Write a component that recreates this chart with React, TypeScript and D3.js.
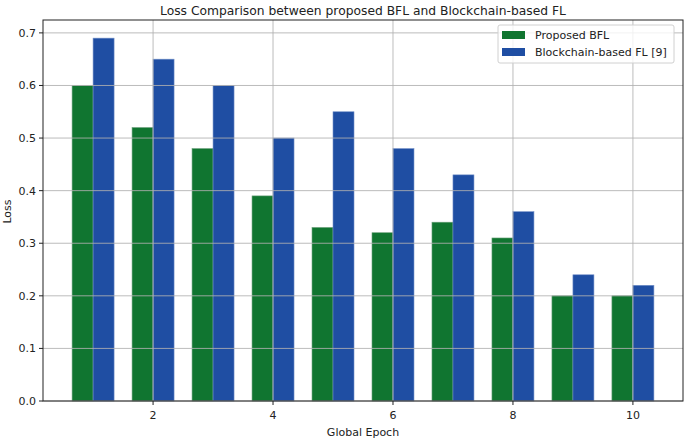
import React from 'react';
import * as d3 from 'd3';

// Values
const epochs = [1, 2, 3, 4, 5, 6, 7, 8, 9, 10];
const proposedBFL = [0.60, 0.52, 0.48, 0.39, 0.33, 0.32, 0.34, 0.31, 0.20, 0.20];
const blockchainFL = [0.69, 0.65, 0.60, 0.50, 0.55, 0.48, 0.43, 0.36, 0.24, 0.22];
const xTicks = [2, 4, 6, 8, 10];
const yTicks = [0, 0.1, 0.2, 0.3, 0.4, 0.5, 0.6, 0.7];

const W = 685;
const H = 441;
const M = { top: 20, right: 2, bottom: 40, left: 43 };
const BAR_W = 0.35;
const GREEN = '#107530';
const BLUE = '#1f4ea3';
const FONT = 'DejaVu Sans, sans-serif';

export default function App() {
  const innerW = W - M.left - M.right;
  const innerH = H - M.top - M.bottom;

  const x = d3.scaleLinear().domain([0.165, 10.835]).range([0, innerW]);
  const y = d3.scaleLinear().domain([0, 0.7245]).range([innerH, 0]);
  const bw = x(BAR_W) - x(0);

  return (
    <svg
      width={W}
      height={H}
      style={{ position: 'absolute', left: 0, top: 0, fontFamily: FONT }}
    >
      <rect width={W} height={H} fill="#fff" />
      <text x={M.left + innerW / 2} y={15} textAnchor="middle" fontSize={12.3} fill="#222">
        Loss Comparison between proposed BFL and Blockchain-based FL
      </text>
      <g transform={`translate(${M.left},${M.top})`}>
        {/* bars */}
        {epochs.map((e, i) => (
          <g key={e}>
            <rect
              x={x(e) - bw}
              y={y(proposedBFL[i])}
              width={bw}
              height={innerH - y(proposedBFL[i])}
              fill={GREEN}
              stroke="#6a9f7a"
              strokeWidth={0.6}
            />
            <rect
              x={x(e)}
              y={y(blockchainFL[i])}
              width={bw}
              height={innerH - y(blockchainFL[i])}
              fill={BLUE}
              stroke="#7390c8"
              strokeWidth={0.6}
            />
          </g>
        ))}
        {/* grid drawn over bars */}
        {xTicks.map(t => (
          <line key={`gx${t}`} x1={x(t)} x2={x(t)} y1={0} y2={innerH} stroke="#b0b0b0" strokeOpacity={0.85} strokeWidth={1} />
        ))}
        {yTicks.map(t => (
          <line key={`gy${t}`} x1={0} x2={innerW} y1={y(t)} y2={y(t)} stroke="#b0b0b0" strokeOpacity={0.85} strokeWidth={1} />
        ))}
        {/* frame */}
        <rect x={0} y={0} width={innerW} height={innerH} fill="none" stroke="#222" strokeWidth={1} />
        {/* x ticks */}
        {xTicks.map(t => (
          <g key={`tx${t}`} transform={`translate(${x(t)},${innerH})`}>
            <line y2={4} stroke="#222" />
            <text y={18} textAnchor="middle" fontSize={11} fill="#222">{t}</text>
          </g>
        ))}
        {/* y ticks */}
        {yTicks.map(t => (
          <g key={`ty${t}`} transform={`translate(0,${y(t)})`}>
            <line x2={-4} stroke="#222" />
            <text x={-7} dy="0.35em" textAnchor="end" fontSize={11} fill="#222">{t.toFixed(1)}</text>
          </g>
        ))}
        <text x={innerW / 2} y={innerH + 35} textAnchor="middle" fontSize={11} fill="#222">Global Epoch</text>
        <text transform={`translate(${-32},${innerH / 2 + 1}) rotate(-90)`} textAnchor="middle" fontSize={11} fill="#222">Loss</text>
        {/* legend */}
        <g transform={`translate(${455},${5})`}>
          <rect width={176} height={38} rx={2} fill="#fff" fillOpacity={0.8} stroke="#d0d0d0" />
          <rect x={4} y={6} width={23} height={8} fill={GREEN} />
          <text x={37} y={14} fontSize={11} fill="#222">Proposed BFL</text>
          <rect x={4} y={23} width={23} height={8} fill={BLUE} />
          <text x={37} y={31} fontSize={11} fill="#222">Blockchain-based FL [9]</text>
        </g>
      </g>
    </svg>
  );
}
